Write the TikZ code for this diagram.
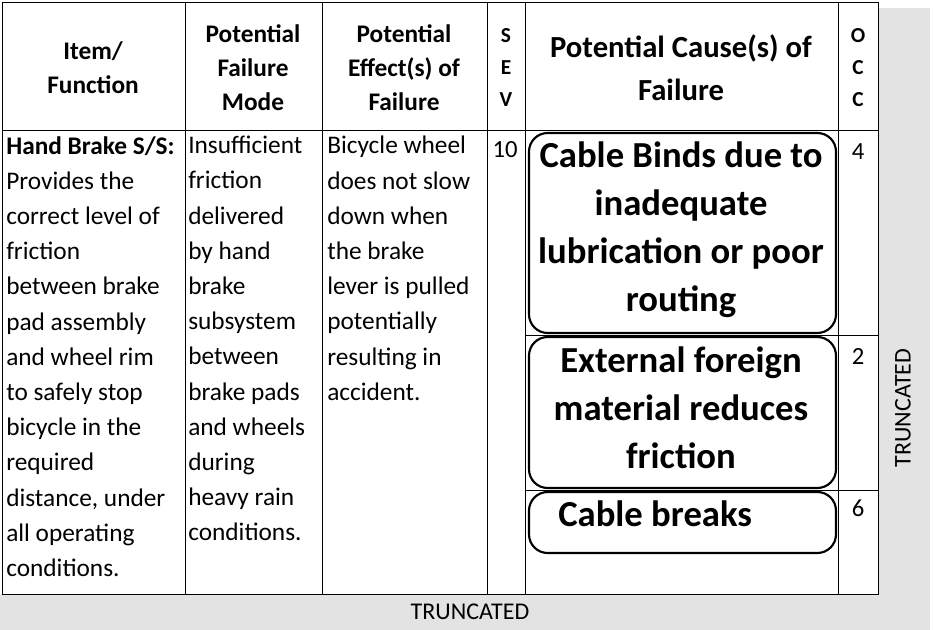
\documentclass[tikz,border=0pt]{standalone}
\usepackage{fontspec}
\setmainfont{Carlito}
\begin{document}
\begin{tikzpicture}[x=0.75pt,y=-0.75pt,
  hdr/.style={font=\fontsize{19}{25.5}\selectfont\bfseries,align=center,inner sep=0pt},
  body/.style={font=\fontsize{19}{26.4}\selectfont,align=left,anchor=north west,inner sep=0pt},
  cause/.style={font=\fontsize{27.5}{36}\selectfont\bfseries,align=center,inner sep=0pt},
  occ/.style={font=\fontsize{18.5}{18}\selectfont,inner sep=0pt},
  cbox/.style={draw,line width=1.6pt,rounded corners=14pt},
  grid/.style={draw,line width=0.6pt}]
\useasboundingbox (0,0) rectangle (934,630);
\fill[gray!22] (0,0) rectangle (930,630);
\fill[white] (0,0) rectangle (878,594);
\fill[white] (878,0) rectangle (934,8);
\fill[white] (930,0) rectangle (934,630);
% grid
\draw[grid] (2,2) rectangle (878,594);
\draw[grid] (2,130) -- (878,130);
\foreach \x in {185,322,487,525,838} \draw[grid] (\x,2) -- (\x,594);
\draw[grid] (525,335) -- (878,335);
\draw[grid] (525,490) -- (878,490);
% headers
\node[hdr] (h1) at (93,68) {Item/\\Function};
\node[hdr] (h2) at (253,68) {Potential\\Failure\\Mode};
\node[hdr] (h3) at (404,68) {Potential\\Effect(s) of\\Failure};
\node[hdr,font=\fontsize{16}{24}\selectfont\bfseries] (h4) at (506,68) {S\\E\\V};
\node[hdr,font=\fontsize{23}{32}\selectfont\bfseries] (h5) at (681,68) {Potential Cause(s) of\\Failure};
\node[hdr,font=\fontsize{16}{24}\selectfont\bfseries] (h6) at (858,68) {O\\C\\C};
% body
\node[body] (b1) at (6,136) {\textbf{Hand Brake S/S:}\\Provides the\\correct level of\\friction\\between brake\\pad assembly\\and wheel rim\\to safely stop\\bicycle in the\\required\\distance, under\\all operating\\conditions.};
\node[body] (b2) at (188,136) {Insufficient\\friction\\delivered\\by hand\\brake\\subsystem\\between\\brake pads\\and wheels\\during\\heavy rain\\conditions.};
\node[body] (b3) at (327,136) {Bicycle wheel\\does not slow\\down when\\the brake\\lever is pulled\\potentially\\resulting in\\accident.};
\node[occ] (s1) at (505,150) {10};
% causes
\draw[cbox] (529,133) rectangle (836,333);
\node[cause] (c1) at (681,230) {Cable Binds due to\\inadequate\\lubrication or poor\\routing};
\draw[cbox] (529,337) rectangle (836,488);
\node[cause] (c2) at (681,408) {External foreign\\material reduces\\friction};
\draw[cbox] (529,492) rectangle (836,553);
\node[cause,anchor=west] (c3) at (558,514) {Cable breaks};
\node[occ] (o1) at (858,152) {4};
\node[occ] (o2) at (858,356) {2};
\node[occ] (o3) at (858,508) {6};
% truncated
\node[font=\fontsize{18}{20}\selectfont] (t1) at (470,612) {TRUNCATED};
\node[font=\fontsize{18}{20}\selectfont,rotate=90] (t2) at (903,408) {TRUNCATED};
\end{tikzpicture}
\end{document}
